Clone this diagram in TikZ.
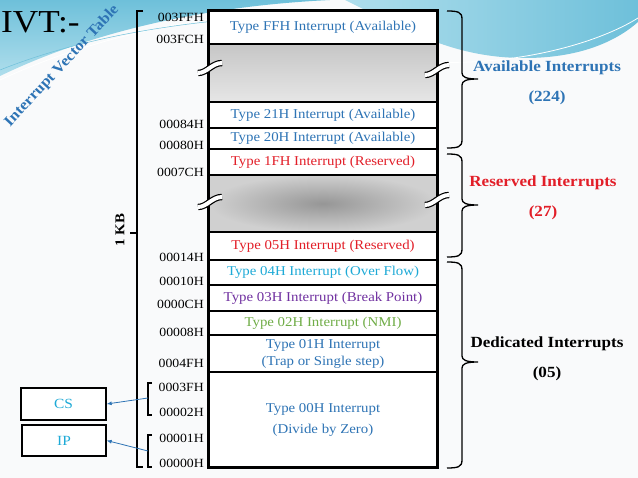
\documentclass[tikz,border=0pt]{standalone}
\usepackage{fontspec}
\setmainfont[FakeStretch=1.1]{Liberation Serif}
\usetikzlibrary{arrows.meta}
\definecolor{ablue}{RGB}{46,116,181}
\definecolor{ared}{RGB}{226,30,40}
\definecolor{acyan}{RGB}{30,170,215}
\definecolor{apurple}{RGB}{112,48,160}
\definecolor{agreen}{RGB}{112,173,71}
\definecolor{wavea}{RGB}{110,192,218}
\definecolor{waveb}{RGB}{175,222,236}
\definecolor{slidebg}{RGB}{249,250,251}
\tikzset{
  cell/.style={draw=black, line width=1.6pt, fill=white, minimum width=228, inner sep=0pt, align=center, font=\fontsize{13.5}{18}\selectfont},
  addr/.style={anchor=east, inner sep=0pt, font=\fontsize{12.5}{14}\selectfont},
  side/.style={font=\bfseries\fontsize{15.5}{17}\selectfont, inner sep=0pt},
  regbox/.style={draw=black, line width=1.3pt, fill=white, font=\fontsize{14}{16}\selectfont, text=acyan, inner sep=0pt},
  brk/.pic={\draw[line width=1.2pt, double=white, double distance=4pt] (-12,5) .. controls (-3,5) and (2,-5) .. (12,-5);},
  brace/.style={line width=1.3pt}
}
\newcommand\myrbrace[3]{%
  \draw[brace] (447,#1) .. controls (458,#1) and (462,#1+1) .. (462,#1+8) -- (462,#2-6)
    .. controls (462,#2-2) and (466,#2) .. (478,#2) .. controls (466,#2) and (462,#2+2) .. (462,#2+6)
    -- (462,#3-8) .. controls (462,#3-1) and (458,#3) .. (447,#3);}
\begin{document}
\begin{tikzpicture}[x=1pt,y=-1pt]
\useasboundingbox (0,0) rectangle (638,478);
% background
\fill[slidebg] (0,0) rectangle (638,478);
\shade[top color=wavea, bottom color=waveb] (0,0) -- (330,0) .. controls (250,4) and (120,18) .. (0,76) -- cycle;
\shade[left color=waveb, right color=wavea] (345,0) .. controls (410,32) and (455,58) .. (525,58) .. controls (585,58) and (620,38) .. (638,22) -- (638,0) -- cycle;
\draw[white, line width=0.8pt] (0,80) .. controls (120,24) and (250,10) .. (340,8);
\draw[wavea, line width=0.5pt] (0,70) .. controls (110,26) and (240,16) .. (330,14);
\draw[white, line width=0.8pt] (430,62) .. controls (520,66) and (600,42) .. (638,18);
% title
\node[anchor=west, inner sep=0pt, font=\fontsize{32}{34}\selectfont] (title) at (1,22) {IVT:-};
\node[rotate=47, text=ablue, inner sep=0pt, font=\bfseries\fontsize{15}{17}\selectfont] (ivt) at (62,66) {Interrupt Vector Table};
% rows
\node[cell, minimum height=33, text=ablue] (rFF) at (323,27.5) {Type FFH Interrupt (Available)};
\node[cell, minimum height=58, shading=axis, top color={rgb,255:red,198;green,198;blue,198}, bottom color={rgb,255:red,230;green,230;blue,230}] (g1) at (323,73) {};
\node[cell, minimum height=26, text=ablue] (r21) at (323,115) {Type 21H Interrupt (Available)};
\node[cell, minimum height=21, text=ablue] (r20) at (323,138.5) {Type 20H Interrupt (Available)};
\node[cell, minimum height=26, text=ared] (r1F) at (323,162) {Type 1FH Interrupt (Reserved)};
\node[cell, minimum height=57, shading=radial, inner color={rgb,255:red,150;green,150;blue,150}, outer color={rgb,255:red,208;green,208;blue,208}] (g2) at (323,203.5) {};
\node[cell, minimum height=28, text=ared] (r05) at (323,246) {Type 05H Interrupt (Reserved)};
\node[cell, minimum height=25, text=acyan] (r04) at (323,272.5) {Type 04H Interrupt (Over Flow)};
\node[cell, minimum height=26, text=apurple] (r03) at (323,298) {Type 03H Interrupt (Break Point)};
\node[cell, minimum height=24, text=agreen] (r02) at (323,323) {Type 02H Interrupt (NMI)};
\node[cell, minimum height=37, text=ablue, font=\fontsize{13.5}{17}\selectfont] (r01) at (323,353.5) {Type 01H Interrupt\\(Trap or Single step)};
\node[cell, minimum height=95, text=ablue, font=\fontsize{13.5}{21}\selectfont] (r00) at (323,419.5) {Type 00H Interrupt\\(Divide by Zero)};
\draw[line width=2pt] (rFF.north west) rectangle (r00.south east);
% break marks
\pic at (210,68) {brk};
\pic at (437,70) {brk};
\pic at (210,202) {brk};
\pic at (437,200) {brk};
% addresses
\node[addr] (a1) at (204,17) {003FFH};
\node[addr] (a2) at (204,39) {003FCH};
\node[addr] (a3) at (204,124) {00084H};
\node[addr] (a4) at (204,145) {00080H};
\node[addr] (a5) at (204,172) {0007CH};
\node[addr] (a6) at (204,257) {00014H};
\node[addr] (a7) at (204,281) {00010H};
\node[addr] (a8) at (204,304) {0000CH};
\node[addr] (a9) at (204,332) {00008H};
\node[addr] (a10) at (204,363) {0004FH};
\node[addr] (a11) at (204,387) {0003FH};
\node[addr] (a12) at (204,412) {00002H};
\node[addr] (a13) at (204,438) {00001H};
\node[addr] (a14) at (204,463) {00000H};
% 1 KB bracket
\draw[line width=1.2pt] (143,11) -- (137,11) -- (137,467) -- (143,467);
\draw[line width=1.2pt] (130,233) -- (137,233);
\node[rotate=90, inner sep=0pt, font=\bfseries\fontsize{13.5}{15}\selectfont] (kb) at (120,230) {1 KB};
% small brackets
\draw[line width=1.1pt] (152,383) -- (148,383) -- (148,415) -- (152,415);
\draw[line width=1.1pt] (152,435) -- (148,435) -- (148,467) -- (152,467);
\coordinate (csb) at (148,398);
\coordinate (ipb) at (148,451);
% CS / IP
\node[regbox, minimum width=85, minimum height=32] (cs) at (63.5,404) {CS};
\node[regbox, minimum width=84, minimum height=31] (ip) at (64,440.5) {IP};
\draw[-{Latex[length=5pt,width=4pt]}, ablue, line width=0.8pt] (csb) -- (cs.east);
\draw[-{Latex[length=5pt,width=4pt]}, ablue, line width=0.8pt] (ipb) -- (ip.east);
% braces
\myrbrace{11}{79}{148}
\myrbrace{154}{205}{257}
\myrbrace{262}{362}{468}
% side labels
\node[side, text=ablue] (av) at (547,68) {Available Interrupts};
\node[side, text=ablue] (avn) at (547,98) {(224)};
\node[side, text=ared] (rs) at (543,183) {Reserved Interrupts};
\node[side, text=ared] (rsn) at (543,213) {(27)};
\node[side] (dd) at (547,344) {Dedicated Interrupts};
\node[side] (ddn) at (547,374) {(05)};
\end{tikzpicture}
\end{document}
